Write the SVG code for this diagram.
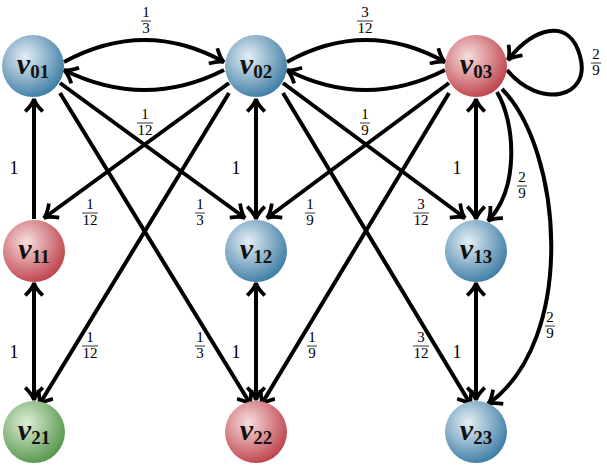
<svg xmlns="http://www.w3.org/2000/svg" width="607" height="469" viewBox="0 0 607 469">
<style>
.e{fill:none;stroke:#000;stroke-width:4;marker-end:url(#a)}
.b{marker-start:url(#s)}
.lb{font-family:"Liberation Serif",serif;font-size:15px;text-anchor:middle;fill:#000}
.fb{stroke:#000;stroke-width:0.8}
.nl{font-family:"Liberation Serif",serif;font-style:italic;font-weight:bold;font-size:30px;text-anchor:middle;fill:#111}
.sb{font-style:normal;font-size:19px}
</style>
<defs>
<marker id="a" markerUnits="userSpaceOnUse" markerWidth="20" markerHeight="20" viewBox="-12 -8 14 16" refX="0" refY="0" orient="auto"><path d="M-10,-7 Q-4,-1 0,0 Q-4,1 -10,7" fill="none" stroke="#000" stroke-width="3"/></marker>
<marker id="s" markerUnits="userSpaceOnUse" markerWidth="20" markerHeight="20" viewBox="-12 -8 14 16" refX="0" refY="0" orient="auto-start-reverse"><path d="M-10,-7 Q-4,-1 0,0 Q-4,1 -10,7" fill="none" stroke="#000" stroke-width="3"/></marker>
<radialGradient id="gb" cx="0.38" cy="0.35" r="0.7"><stop offset="0" stop-color="#e4eef4"/><stop offset="1" stop-color="#3a7aa3"/></radialGradient>
<radialGradient id="gr" cx="0.38" cy="0.35" r="0.7"><stop offset="0" stop-color="#f6dede"/><stop offset="1" stop-color="#bd3f48"/></radialGradient>
<radialGradient id="gg" cx="0.38" cy="0.35" r="0.7"><stop offset="0" stop-color="#deeed8"/><stop offset="1" stop-color="#549448"/></radialGradient>
</defs>
<g id="connectors">
<path class="e" d="M64,62 Q145,18 224,62"/>
<path class="e" d="M224,70 Q145,110 64,70"/>
<path class="e" d="M287,62 Q366,18 445,62"/>
<path class="e" d="M445,70 Q366,110 287,70"/>
<path class="e" d="M507,70 C540,110 592,98 580,56 C570,18 534,26 508,60"/>
<path class="e" d="M34,219 L34,99"/>
<path class="e b" d="M256,219 L256,99"/>
<path class="e b" d="M476,219 L476,99"/>
<path class="e b" d="M34,400 L34,283"/>
<path class="e b" d="M256,400 L256,283"/>
<path class="e b" d="M476,400 L476,283"/>
<path class="e" d="M60,83 L245,218"/>
<path class="e" d="M60,93 L251,405"/>
<path class="e" d="M229,83 L44,218"/>
<path class="e" d="M229,93 L39,405"/>
<path class="e" d="M283,83 L465,218"/>
<path class="e" d="M283,93 L471,405"/>
<path class="e" d="M449,83 L267,218"/>
<path class="e" d="M449,93 L261,405"/>
<path class="e" d="M497,92 C515,122 520,188 488,221"/>
<path class="e" d="M502,89 C562,150 578,340 488,404"/>
</g>
<g id="labels" class="lb">
<g><text x="146" y="17">1</text><line class="fb" x1="141" y1="21" x2="151" y2="21"/><text x="146" y="33">3</text></g>
<g><text x="145" y="119">1</text><line class="fb" x1="137" y1="123" x2="153" y2="123"/><text x="145" y="135">12</text></g>
<g><text x="365" y="17">3</text><line class="fb" x1="357" y1="21" x2="373" y2="21"/><text x="365" y="33">12</text></g>
<g><text x="365" y="119">1</text><line class="fb" x1="360" y1="123" x2="370" y2="123"/><text x="365" y="135">9</text></g>
<g><text x="596" y="59">2</text><line class="fb" x1="591" y1="63" x2="601" y2="63"/><text x="596" y="75">9</text></g>
<g><text x="522" y="182">2</text><line class="fb" x1="517" y1="186" x2="527" y2="186"/><text x="522" y="198">9</text></g>
<g><text x="550" y="322">2</text><line class="fb" x1="545" y1="326" x2="555" y2="326"/><text x="550" y="338">9</text></g>
<g><text x="90" y="209">1</text><line class="fb" x1="82" y1="213" x2="98" y2="213"/><text x="90" y="225">12</text></g>
<g><text x="200" y="209">1</text><line class="fb" x1="195" y1="213" x2="205" y2="213"/><text x="200" y="225">3</text></g>
<g><text x="310" y="209">1</text><line class="fb" x1="305" y1="213" x2="315" y2="213"/><text x="310" y="225">9</text></g>
<g><text x="421" y="209">3</text><line class="fb" x1="413" y1="213" x2="429" y2="213"/><text x="421" y="225">12</text></g>
<g><text x="90" y="342">1</text><line class="fb" x1="82" y1="346" x2="98" y2="346"/><text x="90" y="358">12</text></g>
<g><text x="200" y="342">1</text><line class="fb" x1="195" y1="346" x2="205" y2="346"/><text x="200" y="358">3</text></g>
<g><text x="312" y="342">1</text><line class="fb" x1="307" y1="346" x2="317" y2="346"/><text x="312" y="358">9</text></g>
<g><text x="421" y="342">3</text><line class="fb" x1="413" y1="346" x2="429" y2="346"/><text x="421" y="358">12</text></g>
<text x="14" y="174" font-size="18">1</text>
<text x="236" y="174" font-size="18">1</text>
<text x="457" y="174" font-size="18">1</text>
<text x="14" y="358" font-size="18">1</text>
<text x="236" y="358" font-size="18">1</text>
<text x="457" y="358" font-size="18">1</text>
</g>
<g id="v01"><circle cx="33" cy="66" r="31" fill="url(#gb)"/><text class="nl" x="33" y="74">v<tspan class="sb" dy="4">01</tspan></text></g>
<g id="v02"><circle cx="256" cy="66" r="31" fill="url(#gb)"/><text class="nl" x="256" y="74">v<tspan class="sb" dy="4">02</tspan></text></g>
<g id="v03"><circle cx="476" cy="66" r="31" fill="url(#gr)"/><text class="nl" x="476" y="74">v<tspan class="sb" dy="4">03</tspan></text></g>
<g id="v11"><circle cx="34" cy="251" r="31" fill="url(#gr)"/><text class="nl" x="34" y="259">v<tspan class="sb" dy="4">11</tspan></text></g>
<g id="v12"><circle cx="256" cy="251" r="31" fill="url(#gb)"/><text class="nl" x="256" y="259">v<tspan class="sb" dy="4">12</tspan></text></g>
<g id="v13"><circle cx="476" cy="251" r="31" fill="url(#gb)"/><text class="nl" x="476" y="259">v<tspan class="sb" dy="4">13</tspan></text></g>
<g id="v21"><circle cx="34" cy="432" r="31" fill="url(#gg)"/><text class="nl" x="34" y="440">v<tspan class="sb" dy="4">21</tspan></text></g>
<g id="v22"><circle cx="256" cy="432" r="31" fill="url(#gr)"/><text class="nl" x="256" y="440">v<tspan class="sb" dy="4">22</tspan></text></g>
<g id="v23"><circle cx="476" cy="432" r="31" fill="url(#gb)"/><text class="nl" x="476" y="440">v<tspan class="sb" dy="4">23</tspan></text></g>
</svg>
